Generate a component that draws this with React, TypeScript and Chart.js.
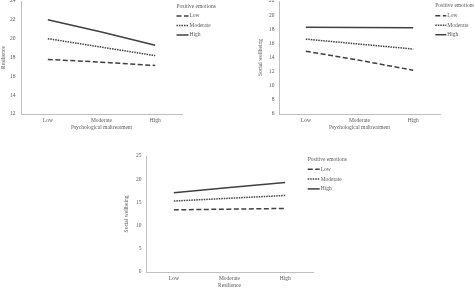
import { useEffect, useRef } from "react";
import { Chart, registerables } from "chart.js";

Chart.register(...registerables);

// Shared category / series labels
const levels = ["Low", "Moderate", "High"];
const seriesNames = ["Low", "Moderate", "High"];
const legendTitle = "Positive emotions";

// Panel A: resilience across psychological maltreatment levels
const resilienceLow = [17.8, 17.5, 17.15];
const resilienceModerate = [20.0, 19.1, 18.2];
const resilienceHigh = [22.0, 20.7, 19.3];

// Panel B: social wellbeing across psychological maltreatment levels
const wellbeingLow = [14.9, 13.6, 12.2];
const wellbeingModerate = [16.6, 15.9, 15.2];
const wellbeingHigh = [18.3, 18.25, 18.2];

// Panel C: social wellbeing across resilience levels
const wellbeingByResLow = [13.4, 13.55, 13.7];
const wellbeingByResModerate = [15.3, 15.9, 16.5];
const wellbeingByResHigh = [17.1, 18.2, 19.3];

const FONT_FAMILY = "'Liberation Serif', 'Times New Roman', serif";
const FONT_SIZE = 5.5;
const TEXT_COLOR = "#595959";
const AXIS_COLOR = "#bfbfbf";
const LINE_COLOR = "#404040";
const LINE_WIDTH = 1.5;
const DASHES = [[5, 2.5], [1.5, 1], []];

type Box = { left: number; top: number; w: number; h: number };
type Plot = { left: number; top: number; right: number; bottom: number };
type LegendPos = { x: number; titleY: number; firstY: number; spacing: number; sample: number };

type PanelProps = {
  box: Box;
  plot: Plot;
  series: number[][];
  yTitle: string;
  xTitle: string;
  yMin: number;
  yMax: number;
  yStep: number;
  yTitlePad: number;
  yTickPad: number;
  xTickPad: number;
  xTitlePad: number;
  legend: LegendPos;
};

const font = { family: FONT_FAMILY, size: FONT_SIZE };

// Legend drawn inside the plot's top-right corner
const panelLegend = {
  id: "panelLegend",
  afterDraw(chart: any, _args: any, opts: any) {
    const { ctx } = chart;
    const { x, titleY, firstY, spacing, sample } = opts;
    ctx.save();
    ctx.font = `${FONT_SIZE}px ${FONT_FAMILY}`;
    ctx.fillStyle = TEXT_COLOR;
    ctx.textBaseline = "middle";
    ctx.textAlign = "left";
    ctx.fillText(legendTitle, x, titleY);
    chart.data.datasets.forEach((ds: any, i: number) => {
      const y = firstY + i * spacing;
      ctx.strokeStyle = ds.borderColor;
      ctx.lineWidth = ds.borderWidth;
      ctx.setLineDash(ds.borderDash || []);
      ctx.beginPath();
      ctx.moveTo(x, y);
      ctx.lineTo(x + sample, y);
      ctx.stroke();
      ctx.setLineDash([]);
      ctx.fillText(ds.label, x + sample + 1, y);
    });
    ctx.restore();
  },
};

function Panel(p: PanelProps) {
  const ref = useRef<HTMLCanvasElement | null>(null);

  useEffect(() => {
    if (!ref.current) return;
    const chart = new Chart(ref.current, {
      type: "line",
      data: {
        labels: levels,
        datasets: p.series.map((values, i) => ({
          label: seriesNames[i],
          data: values,
          borderColor: LINE_COLOR,
          backgroundColor: LINE_COLOR,
          borderWidth: LINE_WIDTH,
          borderDash: DASHES[i],
          pointRadius: 0,
          pointHoverRadius: 0,
          tension: 0,
          fill: false,
        })),
      },
      options: {
        animation: false,
        responsive: false,
        devicePixelRatio: 1,
        events: [],
        layout: {
          padding: { left: 0, top: p.plot.top, right: p.box.w - p.plot.right, bottom: 0 },
        },
        plugins: {
          legend: { display: false },
          tooltip: { enabled: false },
          panelLegend: p.legend,
        } as any,
        scales: {
          x: {
            offset: true,
            ticks: { padding: p.xTickPad, color: TEXT_COLOR, font, maxRotation: 0, autoSkip: false },
            grid: { display: false, drawTicks: false },
            border: { display: true, color: AXIS_COLOR, width: 1 },
            title: {
              display: true,
              text: p.xTitle,
              color: TEXT_COLOR,
              font,
              padding: { top: 0, bottom: p.xTitlePad },
            },
            afterFit: (s: any) => {
              s.height = p.box.h - p.plot.bottom;
              s.paddingLeft = 0;
              s.paddingRight = 0;
            },
          },
          y: {
            min: p.yMin,
            max: p.yMax,
            ticks: { stepSize: p.yStep, padding: p.yTickPad, color: TEXT_COLOR, font },
            grid: { display: false, drawTicks: false },
            border: { display: true, color: AXIS_COLOR, width: 1 },
            title: {
              display: true,
              text: p.yTitle,
              color: TEXT_COLOR,
              font,
              padding: { top: p.yTitlePad, bottom: 0 },
            },
            afterFit: (s: any) => {
              s.width = p.plot.left;
              s.paddingTop = 0;
              s.paddingBottom = 0;
            },
          },
        },
      },
      plugins: [panelLegend as any],
    });
    return () => chart.destroy();
  }, []);

  return (
    <canvas
      ref={ref}
      width={p.box.w}
      height={p.box.h}
      style={{
        position: "absolute",
        left: p.box.left,
        top: p.box.top,
        width: p.box.w,
        height: p.box.h,
      }}
    />
  );
}

export default function App() {
  return (
    <div
      style={{
        position: "fixed",
        left: 0,
        top: 0,
        width: 474,
        height: 289,
        overflow: "hidden",
        background: "#ffffff",
      }}
    >
      <Panel
        box={{ left: 0, top: 0, w: 237, h: 140 }}
        plot={{ left: 21, top: 1, right: 182, bottom: 114 }}
        series={[resilienceLow, resilienceModerate, resilienceHigh]}
        yTitle="Resilience"
        xTitle="Psychological maltreatment"
        yMin={12}
        yMax={24}
        yStep={2}
        yTitlePad={0}
        yTickPad={5.5}
        xTickPad={3.7}
        xTitlePad={8.7}
        legend={{ x: 176.5, titleY: 6.5, firstY: 16, spacing: 9.5, sample: 12 }}
      />
      <Panel
        box={{ left: 237, top: 0, w: 237, h: 140 }}
        plot={{ left: 42, top: 1, right: 203, bottom: 114 }}
        series={[wellbeingLow, wellbeingModerate, wellbeingHigh]}
        yTitle="Social wellbeing"
        xTitle="Psychological maltreatment"
        yMin={6}
        yMax={22}
        yStep={2}
        yTitlePad={20.7}
        yTickPad={4.5}
        xTickPad={3.7}
        xTitlePad={8.7}
        legend={{ x: 198.3, titleY: 6, firstY: 15.7, spacing: 9.5, sample: 11 }}
      />
      <Panel
        box={{ left: 120, top: 145, w: 250, h: 150 }}
        plot={{ left: 26, top: 11, right: 193, bottom: 127 }}
        series={[wellbeingByResLow, wellbeingByResModerate, wellbeingByResHigh]}
        yTitle="Social wellbeing"
        xTitle="Resilience"
        yMin={0}
        yMax={25}
        yStep={5}
        yTitlePad={3.7}
        yTickPad={4.5}
        xTickPad={3.4}
        xTitlePad={5.7}
        legend={{ x: 187.7, titleY: 15, firstY: 24.3, spacing: 9.8, sample: 12 }}
      />
    </div>
  );
}
